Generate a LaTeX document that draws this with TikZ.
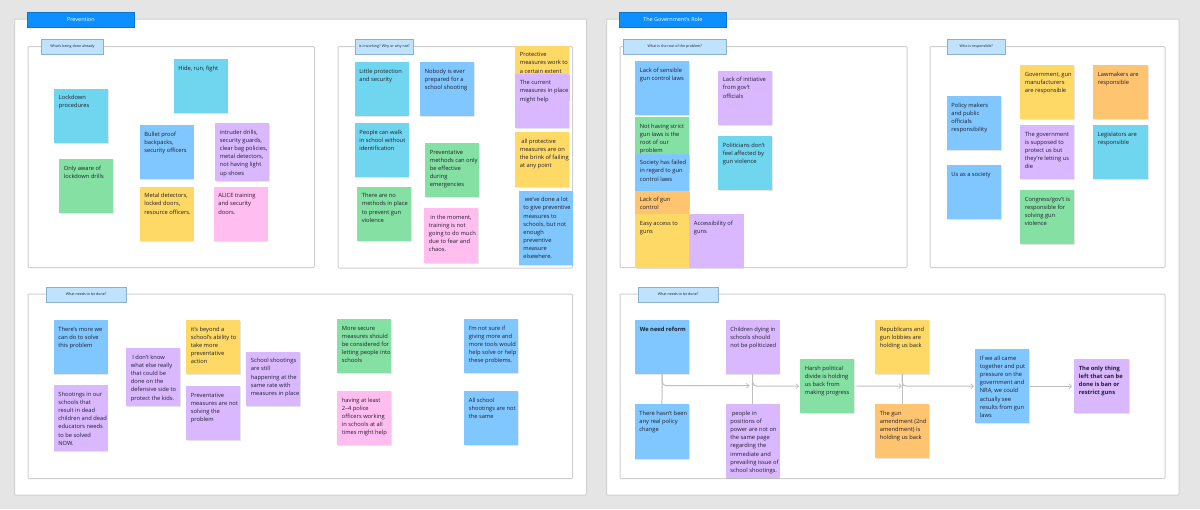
\documentclass[tikz,border=0pt]{standalone}
\usepackage{fontspec}
\setmainfont{Open Sans}
\usetikzlibrary{arrows.meta,shadows}
\definecolor{bgc}{HTML}{E5E5E5}
\definecolor{framec}{HTML}{D0D0D0}
\definecolor{titlec}{HTML}{0D8FFF}
\definecolor{titleb}{HTML}{0A74D0}
\definecolor{subc}{HTML}{BFE3FF}
\definecolor{subb}{HTML}{8CAFCE}
\definecolor{ink}{HTML}{1E1E2A}
\definecolor{cy}{HTML}{70D6F0}
\definecolor{bl}{HTML}{80C6FF}
\definecolor{gr}{HTML}{85E0A3}
\definecolor{ye}{HTML}{FFD966}
\definecolor{or}{HTML}{FFC470}
\definecolor{pu}{HTML}{D9B8FF}
\definecolor{pi}{HTML}{FFBDF0}
\tikzset{
  panelbox/.style={draw=framec,line width=1pt,fill=white,rounded corners=1pt},
  framebox/.style={draw=framec,line width=1pt,fill=white,rounded corners=1pt},
  notebox/.style={inner sep=0pt,anchor=north west,text=ink,
    drop shadow={shadow xshift=0.3pt,shadow yshift=-0.8pt,opacity=.10,fill=black}},
  titlebox/.style={draw=titleb,line width=.7pt,fill=titlec,text=white,inner sep=0pt,anchor=north west,
    font=\fontsize{5.5}{7}\selectfont},
  subbox/.style={draw=subb,line width=.7pt,fill=subc,text=ink,inner sep=0pt,anchor=north west,
    font=\fontsize{3.6}{5}\selectfont},
  conn/.style={draw=framec!92!black,line width=1pt},
  flow/.style={conn,-{Straight Barb[length=2.6pt,width=5pt,line width=.7pt]},rounded corners=4pt},
}
\newcommand\panelrect[5]{\node[#5,inner sep=0pt,anchor=north west,minimum width=\dimexpr#3pt-#1pt\relax,minimum height=\dimexpr#4pt-#2pt\relax] at (#1,#2) {};}
\newcommand\tagbox[7][subbox]{\node[#1,minimum width=\dimexpr#5pt-#3pt\relax,minimum height=\dimexpr#6pt-#4pt\relax] (#2) at (#3,#4) {#7};}
\newcommand\sticky[7]{\node[notebox,fill=#6] (#1) at (#2,#3) {%
  \parbox[c][\dimexpr#5pt-#3pt\relax][t]{\dimexpr#4pt-#2pt\relax}{%
    \fontsize{5.75}{8.15}\selectfont\raggedright\leftskip=4.7pt\rightskip=-20pt plus 1fil\vskip5.1pt
    \leavevmode\rule{0pt}{6pt}#7}};}
\begin{document}
\begin{tikzpicture}[x=1pt,y=-1pt]
\useasboundingbox (0,0) rectangle (1200,509);
\fill[bgc] (0,0) rectangle (1200,509);
% panels
\panelrect{14}{18.5}{586}{494.5}{panelbox}
\panelrect{606}{18.5}{1178.5}{494.5}{panelbox}
% frames
\panelrect{27.5}{46}{314}{267}{framebox}
\panelrect{337.5}{46}{572}{267.5}{framebox}
\panelrect{27.5}{293.5}{572}{478}{framebox}
\panelrect{619.5}{46}{906.5}{267}{framebox}
\panelrect{929.5}{46}{1164.5}{267}{framebox}
\panelrect{619.5}{293.5}{1164.5}{478}{framebox}
% titles
\tagbox[titlebox]{tl}{27}{12}{134}{26.5}{Prevention}
\tagbox[titlebox]{tr}{619}{12}{726}{26.5}{The Government's Role}
\tagbox{s1}{41}{39}{103}{53.5}{What's being done already}
\tagbox{s2}{355}{39}{413}{53.5}{Is it working? Why or why not?}
\tagbox{s3}{46}{287}{125.5}{301.5}{What needs to be done?}
\tagbox{s4}{623}{39}{726}{54}{What is the root of the problem?}
\tagbox{s5}{947}{39}{1005}{53.5}{Who is responsible?}
\tagbox{s6}{638}{287}{717.5}{301.5}{What needs to be done?}
% top left
\sticky{a1}{54}{88.5}{108}{143}{cy}{Lockdown\\procedures}
\sticky{a2}{173.5}{59}{227.5}{113}{cy}{Hide, run, fight}
\sticky{a3}{59}{159}{113}{213}{gr}{Only aware of\\lockdown drills}
\sticky{a4}{139.5}{125}{193.5}{179}{bl}{Bullet proof\\backpacks,\\security officers}
\sticky{a5}{215}{123}{269}{181}{pu}{intruder drills,\\security guards,\\clear bag policies,\\metal detectors,\\not having light\\up shoes}
\sticky{a6}{139.5}{186.5}{193.5}{240.5}{ye}{Metal detectors,\\locked doors,\\resource officers.}
\sticky{a7}{213.5}{186.5}{267.5}{240.5}{pi}{ALICE training\\and security\\doors.}
% is it working
\sticky{b1}{354.5}{62}{408.5}{116}{cy}{Little protection\\and security}
\sticky{b2}{420}{62}{474}{116}{bl}{Nobody is ever\\prepared for a\\school shooting}
\sticky{b3}{354.5}{123}{408.5}{177}{cy}{People can walk\\in school without\\identification}
\sticky{b4}{425}{143}{479}{197}{gr}{Preventative\\methods can only\\be effective\\during\\emergencies}
\sticky{b5}{357}{186.5}{411}{240.5}{gr}{There are no\\methods in place\\to prevent gun\\violence}
\sticky{b6}{424}{208}{478}{262.5}{pi}{\hspace*{1.5pt}in the moment,\\training is not\\going to do much\\due to fear and\\chaos.}
\sticky{b7}{515}{45.5}{569}{100}{ye}{Protective\\measures work to\\a certain extent}
\sticky{b8}{515}{73.5}{569}{128}{pu}{The current\\measures in place\\might help}
\sticky{b9}{515}{132}{569}{186.5}{ye}{\hspace*{1.5pt}all protective\\measures are on\\the brink of failing\\at any point}
\sticky{b10}{518.5}{190.5}{572.5}{265}{bl}{\hspace*{1.5pt}we've done a lot\\to give preventive\\measures to\\schools, but not\\enough\\preventive\\measure\\elsewhere.}
% root of the problem
\sticky{c1}{635}{61}{689}{115}{bl}{Lack of sensible\\gun control laws}
\sticky{c2}{635}{117}{689}{172}{gr}{Not having strict\\gun laws is the\\root of our\\problem}
\sticky{c3}{635}{153.5}{689}{208}{bl}{Society has failed\\in regard to gun\\control laws}
\sticky{c4}{635}{190.5}{689}{245}{or}{Lack of gun\\control}
\sticky{c5}{635}{214}{689}{267.5}{ye}{Easy access to\\guns}
\sticky{c6}{689}{214}{743.5}{267.5}{pu}{Accessibility of\\guns}
\sticky{c7}{718}{70.5}{772}{125}{pu}{Lack of initiative\\from gov't\\officials}
\sticky{c8}{718}{136}{772}{190}{cy}{Politicians don't\\feel affected by\\gun violence}
% responsible
\sticky{d1}{946.5}{96}{1001}{150}{bl}{Policy makers\\and public\\officials\\responsibility}
\sticky{d2}{946.5}{165}{1001}{219}{bl}{Us as a society}
\sticky{d3}{1020}{65}{1074}{119}{ye}{Government, gun\\manufacturers\\are responsible}
\sticky{d4}{1020}{125}{1074}{179}{pu}{The government\\is supposed to\\protect us but\\they're letting us\\die}
\sticky{d5}{1020}{190}{1074}{244}{gr}{Congress/gov't is\\responsible for\\solving gun\\violence}
\sticky{d6}{1093}{65}{1148}{119}{or}{Lawmakers are\\responsible}
\sticky{d7}{1093}{125}{1148}{179}{cy}{Legislators are\\responsible}
% needs doing, left
\sticky{e1}{53.5}{320}{107.5}{374}{bl}{There's more we\\can do to solve\\this problem}
\sticky{e2}{53.5}{385}{107.5}{451}{pu}{Shootings in our\\schools that\\result in dead\\children and dead\\educators needs\\to be solved\\NOW.}
\sticky{e3}{126}{348}{180}{406}{pu}{\hspace*{1.5pt}I don't know\\what else really\\that could be\\done on the\\defensive side to\\protect the kids.}
\sticky{e4}{186}{320}{240}{374}{ye}{it's beyond a\\school's ability to\\take more\\preventative\\action}
\sticky{e5}{186}{386}{240}{440}{pu}{Preventative\\measures are not\\solving the\\problem}
\sticky{e6}{246}{351.5}{300}{406}{pu}{School shootings\\are still\\happening at the\\same rate with\\measures in place}
\sticky{e7}{337}{319}{391}{373}{gr}{More secure\\measures should\\be considered for\\letting people into\\schools}
\sticky{e8}{337}{391}{391}{445}{pi}{having at least\\2–4 police\\officers working\\in schools at all\\times might help}
\sticky{e9}{464}{319}{518}{373}{bl}{I'm not sure if\\giving more and\\more tools would\\help solve or help\\these problems.}
\sticky{e10}{464}{391}{518}{445}{bl}{All school\\shootings are not\\the same}
% needs doing, right
\sticky{f1}{635}{320}{689}{374}{bl}{\textbf{We need reform}}
\sticky{f2}{634.5}{404}{689}{459}{bl}{There hasn't been\\any real policy\\change}
\sticky{f3}{725.5}{320}{779.5}{374}{pu}{Children dying in\\schools should\\not be politicized}
\sticky{f4}{725.5}{404}{779.5}{478}{pu}{\hspace*{1.5pt}people in\\positions of\\power are not on\\the same page\\regarding the\\immediate and\\prevailing issue of\\school shootings.}
\sticky{f5}{800}{359}{854}{413}{gr}{Harsh political\\divide is holding\\us back from\\making progress}
\sticky{f6}{875}{320}{929}{374}{ye}{Republicans and\\gun lobbies are\\holding us back}
\sticky{f7}{875}{404}{929}{458}{or}{The gun\\amendment (2nd\\amendment) is\\holding us back}
\sticky{f8}{975}{349}{1029}{423}{bl}{If we all came\\together and put\\pressure on the\\government and\\NRA, we could\\actually see\\results from gun\\laws}
\sticky{f9}{1074}{359}{1129}{413}{pu}{\textbf{The only thing}\\\textbf{left that can be}\\\textbf{done is ban or}\\\textbf{restrict guns}}
% connectors
\coordinate (j2) at (749.5,385.7);
\coordinate (j3) at (902,386);
\draw[conn] (f1.south) -- (f2.north);
\draw[conn] (f3.south) -- (f4.north);
\draw[conn] (f6.south) -- (f7.north);
\draw[flow] (f1.south) |- (j2);
\draw[flow,shorten >=1pt] (f3.south) |- (f5.west);
\draw[flow,shorten <=2pt] (f5.east) -- (j3);
\draw[flow,shorten >=1pt] (f6.south) |- (f8.west);
\draw[flow,shorten <=1pt,shorten >=2pt] (f8.east) -- (f9.west);
\end{tikzpicture}
\end{document}
